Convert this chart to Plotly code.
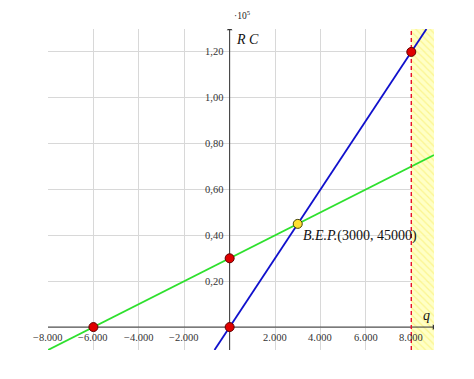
import plotly.graph_objects as go

# ---- data ----
cost_q = [-8000, 9000]
cost_v = [-10000, 75000]
rev_q = [-667, 8667]
rev_v = [-10000, 130000]
red_q = [-6000, 0, 0, 8000]
red_v = [0, 0, 30000, 120000]
bep_q = [3000]
bep_v = [45000]
bep_label = "<i>B.E.P.</i>(3000, 45000)"
x_ticks = [-8000, -6000, -4000, -2000, 2000, 4000, 6000, 8000]
x_tick_labels = ["\u22128.000", "\u22126.000", "\u22124.000", "\u22122.000", "2.000", "4.000", "6.000", "8.000"]
y_ticks = [20000, 40000, 60000, 80000, 100000, 120000]
y_tick_labels = ["0,20", "0,40", "0,60", "0,80", "1,00", "1,20"]
limit_q = 8000
x_range = [-8000, 9000]
y_range = [-10000, 130000]

FONT = "'Liberation Serif', 'DejaVu Serif', serif"

fig = go.Figure()

# hatched yellow region beyond the capacity limit
fig.add_trace(go.Bar(
    x=[(limit_q + x_range[1]) / 2], y=[y_range[1] - y_range[0]], base=[y_range[0]],
    width=[x_range[1] - limit_q],
    marker=dict(color="rgba(255,255,195,0.95)", line=dict(width=0),
                pattern=dict(shape="\\", fgcolor="rgba(245,230,70,0.85)", size=5, solidity=0.25)),
    hoverinfo="skip", showlegend=False))

# axes (lines + arrow heads)
fig.add_trace(go.Scatter(x=x_range, y=[0, 0], mode="lines",
                         line=dict(color="#333", width=1), hoverinfo="skip", showlegend=False))
fig.add_trace(go.Scatter(x=[0, 0], y=y_range, mode="lines",
                         line=dict(color="#333", width=1), hoverinfo="skip", showlegend=False))
fig.add_trace(go.Scatter(x=[x_range[1]], y=[0], mode="markers",
                         marker=dict(symbol="triangle-right", size=5, color="#333"),
                         hoverinfo="skip", showlegend=False))
fig.add_trace(go.Scatter(x=[0], y=[y_range[1]], mode="markers",
                         marker=dict(symbol="triangle-up", size=5, color="#333"),
                         hoverinfo="skip", showlegend=False))

fig.add_trace(go.Scatter(x=cost_q, y=cost_v, mode="lines",
                         line=dict(color="#2ee02e", width=1.8), showlegend=False))
fig.add_trace(go.Scatter(x=rev_q, y=rev_v, mode="lines",
                         line=dict(color="#1010cc", width=1.8), showlegend=False))
fig.add_trace(go.Scatter(x=[limit_q, limit_q], y=y_range, mode="lines",
                         line=dict(color="#e8102a", width=1.4, dash="4px,3px"), showlegend=False))
fig.add_trace(go.Scatter(x=red_q, y=red_v, mode="markers",
                         marker=dict(color="#e00000", size=9, line=dict(color="#600000", width=1)),
                         showlegend=False))
fig.add_trace(go.Scatter(x=bep_q, y=bep_v, mode="markers",
                         marker=dict(color="#ffe030", size=9, line=dict(color="#444400", width=1)),
                         showlegend=False))

annotations = []
for xv, lab in zip(x_ticks, x_tick_labels):
    annotations.append(dict(x=xv, y=0, xref="x", yref="y", text=lab, showarrow=False,
                            yanchor="top", yshift=-3, font=dict(family=FONT, size=10.5, color="#333")))
for yv, lab in zip(y_ticks, y_tick_labels):
    annotations.append(dict(x=0, y=yv, xref="x", yref="y", text=lab, showarrow=False,
                            xanchor="right", xshift=-5, font=dict(family=FONT, size=10.5, color="#333")))
annotations.append(dict(x=x_range[1], y=0, xref="x", yref="y", text="<i>q</i>", showarrow=False,
                        xanchor="right", yanchor="bottom", xshift=-2, yshift=2,
                        font=dict(family=FONT, size=14, color="#111")))
annotations.append(dict(x=0, y=y_range[1], xref="x", yref="y", text="<i>R C</i>", showarrow=False,
                        xanchor="left", yanchor="top", xshift=4, yshift=-1,
                        font=dict(family=FONT, size=14, color="#111")))
annotations.append(dict(x=0, y=y_range[1], xref="x", yref="y", text="\u00b710<sup>5</sup>", showarrow=False,
                        xanchor="left", yanchor="bottom", xshift=2, yshift=6,
                        font=dict(family=FONT, size=9.5, color="#222")))
annotations.append(dict(x=bep_q[0], y=bep_v[0], xref="x", yref="y", text=bep_label, showarrow=False,
                        xanchor="left", yanchor="top", xshift=3, yshift=-2,
                        font=dict(family=FONT, size=14, color="#111")))

fig.update_layout(
    width=474, height=379,
    margin=dict(l=40, r=48, t=21, b=37),
    plot_bgcolor="white", paper_bgcolor="white",
    font=dict(family=FONT),
    xaxis=dict(range=x_range, tickvals=x_ticks + [0], showticklabels=False, showgrid=True,
               gridcolor="#d8d8d8", gridwidth=1, zeroline=False, showline=False, ticks=""),
    yaxis=dict(range=y_range, tickvals=y_ticks + [0], showticklabels=False, showgrid=True,
               gridcolor="#d8d8d8", gridwidth=1, zeroline=False, showline=False, ticks=""),
    annotations=annotations,
    bargap=0,
)

fig.write_html("out.html")
